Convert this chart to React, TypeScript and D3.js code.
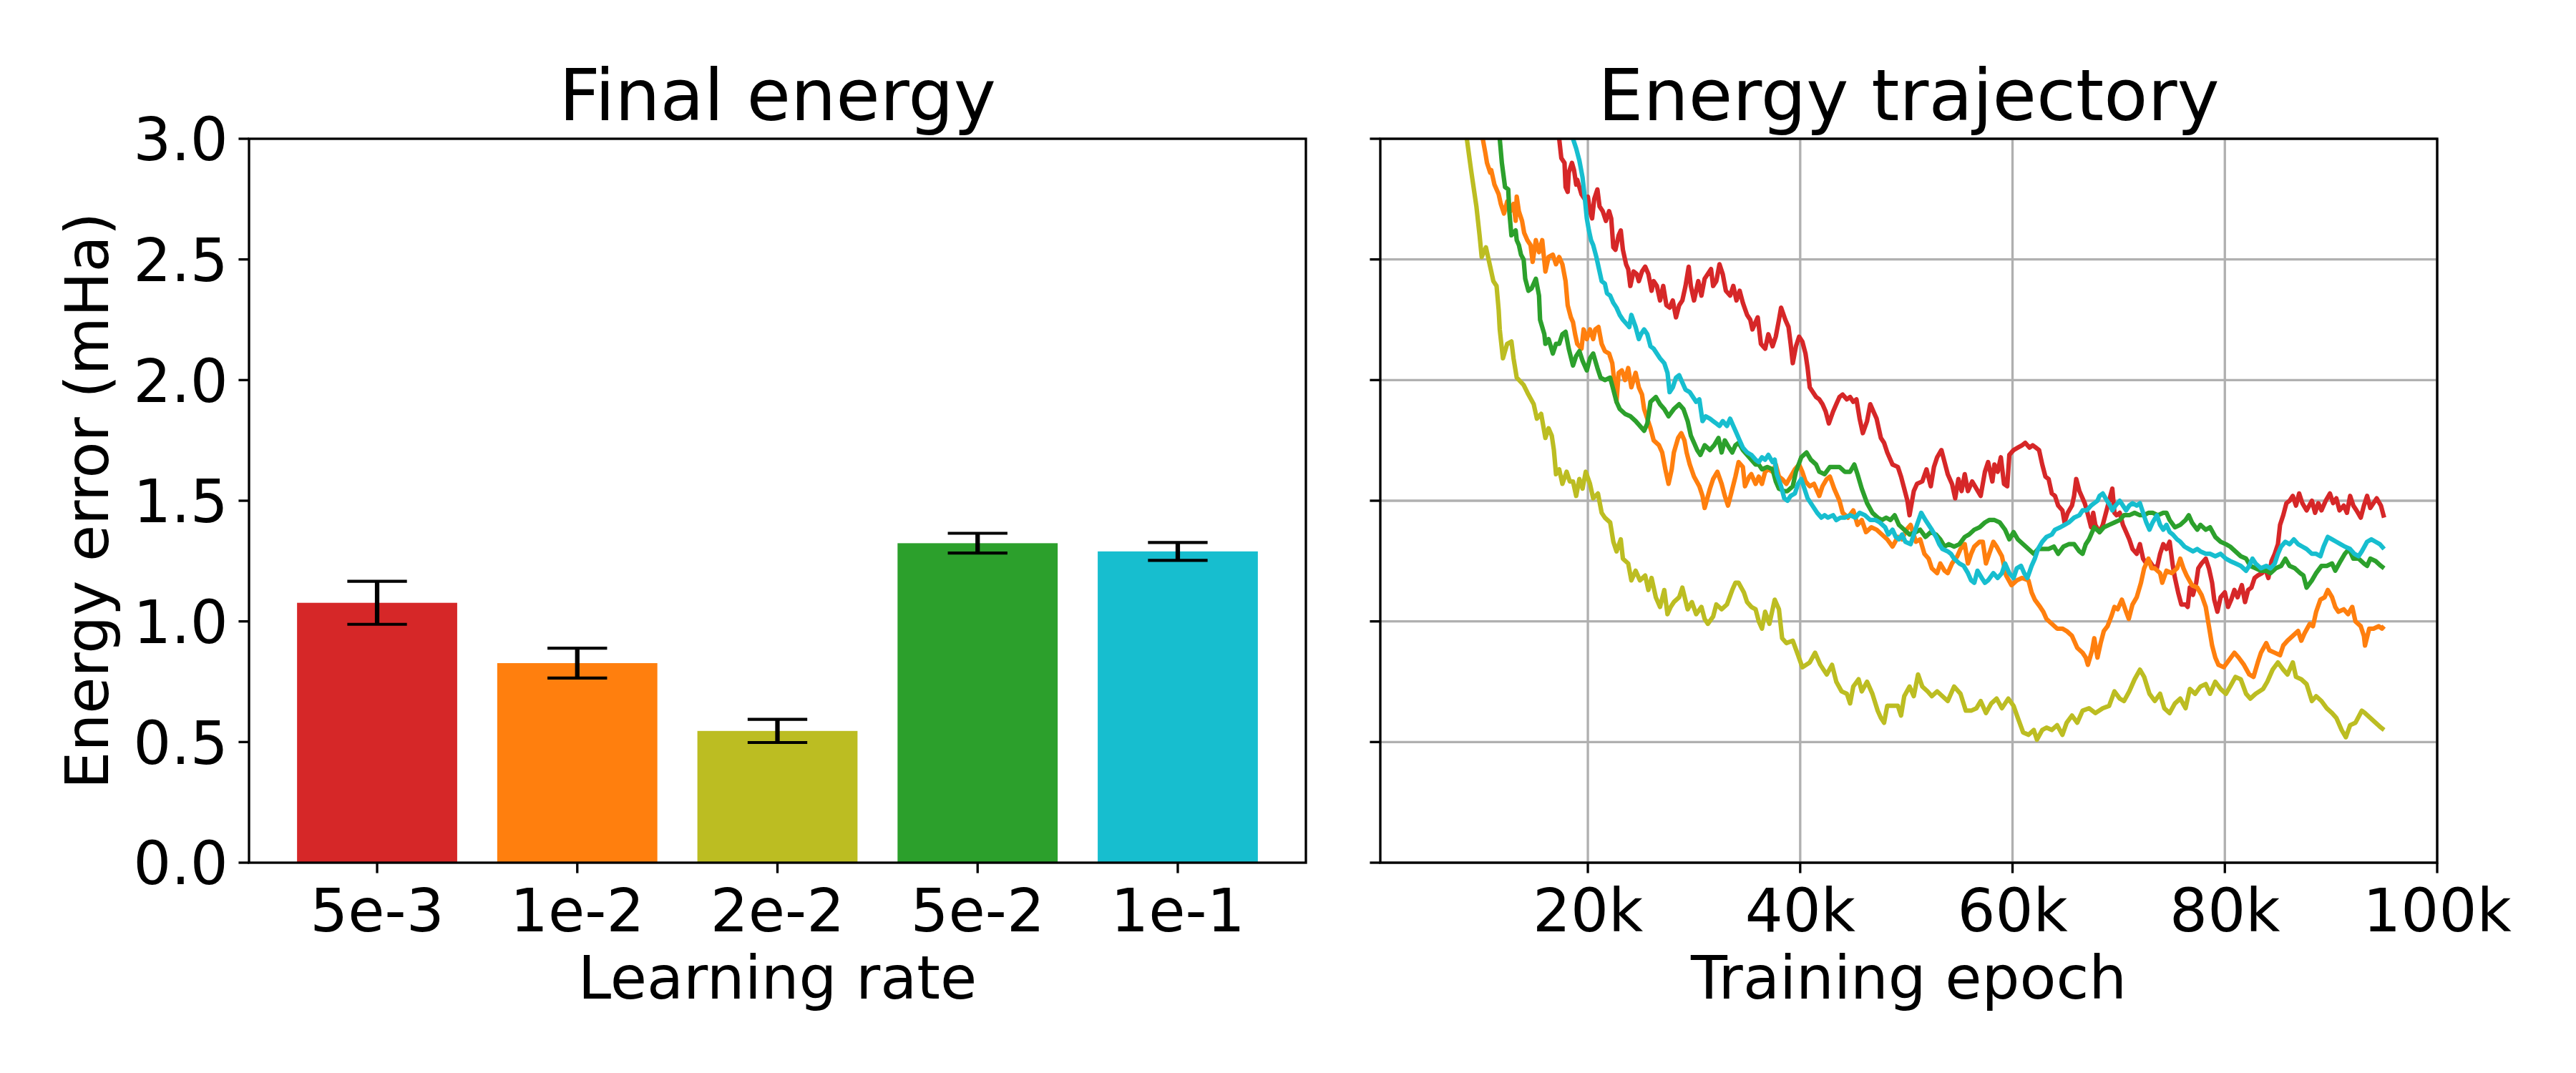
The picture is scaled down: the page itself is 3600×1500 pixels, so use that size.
import React from 'react';
import * as d3 from 'd3';

// ---------- data ----------
const learningRates = ['5e-3', '1e-2', '2e-2', '5e-2', '1e-1'];
const finalEnergy = [1.077, 0.827, 0.546, 1.324, 1.29];
const finalEnergyErr = [0.089, 0.062, 0.048, 0.041, 0.037];
const seriesColors = ['#d62728', '#ff7f0e', '#bcbd22', '#2ca02c', '#17becf'];

const yTicks = [0, 0.5, 1, 1.5, 2, 2.5, 3];
const yTickLabels = ['0.0', '0.5', '1.0', '1.5', '2.0', '2.5', '3.0'];
const epochTicks = [20000, 40000, 60000, 80000, 100000];
const epochTickLabels = ['20k', '40k', '60k', '80k', '100k'];

// trajectories: [epoch in thousands, energy error mHa]
const traj5e3: [number, number][] = [
  [5, 7.0], [12, 4.3], [15.5, 3.4], [17.3, 3.0], [17.5, 2.92], [17.8, 2.9], [17.9, 2.8], [18.1, 2.78], [18.2, 2.86], [18.5, 2.9], [18.7, 2.87], [18.9, 2.81], [19.0, 2.83], [19.4, 2.77], [19.7, 2.75], [20.0, 2.76], [20.2, 2.7], [20.4, 2.67], [20.6, 2.75], [20.9, 2.79], [21.1, 2.72], [21.4, 2.7], [21.7, 2.66], [22.0, 2.7], [22.2, 2.67], [22.4, 2.55], [22.6, 2.54], [22.9, 2.6], [23.1, 2.62], [23.3, 2.54], [23.6, 2.48], [23.8, 2.46], [24.0, 2.39], [24.3, 2.45], [24.6, 2.44], [24.8, 2.41], [25.1, 2.45], [25.4, 2.47], [25.7, 2.44], [26.0, 2.37], [26.2, 2.41], [26.5, 2.39], [26.8, 2.33], [27.1, 2.39], [27.4, 2.31], [27.7, 2.3], [28.0, 2.33], [28.3, 2.26], [28.6, 2.31], [28.9, 2.33], [29.2, 2.39], [29.5, 2.47], [29.7, 2.39], [30.0, 2.33], [30.4, 2.41], [30.7, 2.35], [31.0, 2.42], [31.3, 2.44], [31.6, 2.46], [31.8, 2.39], [32.1, 2.41], [32.4, 2.48], [32.7, 2.44], [33.0, 2.37], [33.4, 2.35], [33.7, 2.39], [34.0, 2.33], [34.3, 2.37], [34.6, 2.32], [35.0, 2.27], [35.3, 2.25], [35.5, 2.21], [35.8, 2.24], [36.0, 2.26], [36.3, 2.15], [36.7, 2.13], [37.0, 2.19], [37.4, 2.14], [37.7, 2.18], [38.0, 2.25], [38.2, 2.3], [38.6, 2.25], [38.9, 2.22], [39.1, 2.15], [39.3, 2.07], [39.6, 2.14], [39.9, 2.18], [40.2, 2.16], [40.5, 2.11], [40.7, 2.05], [40.9, 1.97], [41.2, 1.95], [41.5, 1.93], [41.8, 1.92], [42.1, 1.9], [42.4, 1.87], [42.7, 1.82], [43.1, 1.87], [43.4, 1.9], [43.7, 1.93], [44.0, 1.94], [44.4, 1.92], [44.7, 1.93], [45.0, 1.91], [45.3, 1.92], [45.6, 1.84], [45.9, 1.78], [46.3, 1.83], [46.6, 1.9], [46.9, 1.87], [47.2, 1.84], [47.6, 1.76], [47.9, 1.74], [48.2, 1.7], [48.7, 1.65], [49.2, 1.64], [49.5, 1.6], [49.8, 1.55], [50.1, 1.5], [50.3, 1.44], [50.7, 1.54], [51.0, 1.57], [51.5, 1.58], [51.9, 1.63], [52.3, 1.56], [52.6, 1.64], [52.9, 1.68], [53.3, 1.71], [53.6, 1.66], [53.9, 1.61], [54.3, 1.57], [54.6, 1.51], [54.9, 1.59], [55.2, 1.54], [55.5, 1.61], [55.8, 1.54], [56.2, 1.58], [56.6, 1.55], [57.0, 1.52], [57.4, 1.62], [57.7, 1.66], [58.1, 1.58], [58.3, 1.65], [58.6, 1.62], [58.9, 1.68], [59.2, 1.57], [59.5, 1.56], [59.7, 1.69], [60.1, 1.71], [60.5, 1.72], [60.9, 1.73], [61.2, 1.74], [61.6, 1.72], [61.9, 1.73], [62.2, 1.72], [62.5, 1.71], [62.8, 1.65], [63.1, 1.6], [63.4, 1.59], [63.7, 1.53], [64.0, 1.52], [64.3, 1.48], [64.7, 1.46], [64.9, 1.41], [65.2, 1.45], [65.6, 1.48], [65.8, 1.52], [66.0, 1.59], [66.3, 1.54], [66.5, 1.52], [66.8, 1.49], [67.0, 1.46], [67.4, 1.39], [67.6, 1.45], [67.8, 1.4], [68.2, 1.37], [68.5, 1.4], [68.8, 1.45], [69.1, 1.5], [69.4, 1.55], [69.6, 1.45], [69.8, 1.44], [70.1, 1.45], [70.4, 1.4], [70.7, 1.37], [71.0, 1.34], [71.3, 1.3], [71.7, 1.28], [72.0, 1.32], [72.3, 1.26], [72.6, 1.24], [72.9, 1.25], [73.2, 1.23], [73.6, 1.22], [73.9, 1.28], [74.2, 1.32], [74.5, 1.3], [74.8, 1.33], [75.1, 1.23], [75.3, 1.18], [75.6, 1.12], [75.9, 1.07], [76.3, 1.07], [76.5, 1.06], [76.7, 1.14], [77.0, 1.11], [77.3, 1.16], [77.5, 1.22], [77.8, 1.24], [78.2, 1.26], [78.5, 1.22], [78.8, 1.16], [79.0, 1.09], [79.3, 1.04], [79.6, 1.1], [80.0, 1.12], [80.3, 1.06], [80.6, 1.09], [80.9, 1.13], [81.2, 1.1], [81.6, 1.15], [81.9, 1.08], [82.2, 1.13], [82.5, 1.14], [82.8, 1.18], [83.1, 1.19], [83.5, 1.2], [83.8, 1.22], [84.1, 1.18], [84.4, 1.25], [84.7, 1.28], [85.0, 1.32], [85.2, 1.4], [85.5, 1.44], [85.8, 1.49], [86.1, 1.5], [86.4, 1.52], [86.7, 1.48], [87.0, 1.53], [87.3, 1.49], [87.7, 1.46], [88.2, 1.5], [88.5, 1.45], [88.8, 1.49], [89.1, 1.46], [89.5, 1.5], [89.9, 1.53], [90.2, 1.49], [90.5, 1.51], [90.8, 1.46], [91.2, 1.48], [91.5, 1.45], [91.8, 1.52], [92.1, 1.48], [92.4, 1.46], [92.8, 1.43], [93.1, 1.48], [93.4, 1.52], [93.7, 1.47], [94.0, 1.49], [94.3, 1.51], [94.7, 1.48], [95.0, 1.43],
];

const traj1e2: [number, number][] = [
  [5, 4.6], [8, 3.5], [10.1, 3.0], [10.35, 2.94], [10.5, 2.9], [10.8, 2.86], [10.9, 2.87], [11.2, 2.81], [11.6, 2.77], [11.8, 2.73], [12.1, 2.69], [12.4, 2.74], [12.7, 2.7], [13.0, 2.73], [13.2, 2.66], [13.3, 2.76], [13.5, 2.7], [13.8, 2.66], [14.0, 2.61], [14.3, 2.58], [14.6, 2.56], [14.8, 2.49], [15.1, 2.58], [15.4, 2.53], [15.7, 2.58], [16.0, 2.45], [16.3, 2.51], [16.7, 2.52], [17.0, 2.48], [17.3, 2.51], [17.6, 2.48], [17.9, 2.41], [18.1, 2.31], [18.4, 2.26], [18.6, 2.24], [18.8, 2.19], [19.0, 2.15], [19.4, 2.13], [19.6, 2.21], [19.9, 2.17], [20.2, 2.21], [20.5, 2.17], [20.7, 2.21], [21.0, 2.22], [21.3, 2.15], [21.6, 2.12], [22.0, 2.11], [22.3, 2.07], [22.5, 1.99], [22.7, 1.91], [22.9, 2.03], [23.2, 2.04], [23.5, 2.0], [23.8, 2.05], [24.1, 1.97], [24.5, 2.03], [24.8, 1.97], [25.1, 1.94], [25.3, 1.88], [25.6, 1.84], [25.9, 1.8], [26.2, 1.75], [26.7, 1.73], [27.0, 1.7], [27.3, 1.63], [27.6, 1.57], [27.9, 1.63], [28.1, 1.7], [28.5, 1.76], [28.8, 1.78], [29.1, 1.75], [29.3, 1.7], [29.6, 1.65], [30.0, 1.6], [30.5, 1.56], [30.8, 1.52], [31.0, 1.47], [31.5, 1.55], [31.8, 1.59], [32.2, 1.62], [32.6, 1.57], [32.9, 1.52], [33.2, 1.48], [33.5, 1.53], [33.9, 1.6], [34.2, 1.66], [34.6, 1.64], [34.8, 1.56], [35.2, 1.6], [35.4, 1.61], [35.8, 1.57], [36.1, 1.6], [36.4, 1.57], [36.7, 1.62], [37.0, 1.63], [37.4, 1.62], [37.7, 1.65], [38.0, 1.6], [38.3, 1.59], [38.7, 1.57], [39.1, 1.6], [39.5, 1.63], [39.9, 1.65], [40.2, 1.62], [40.5, 1.58], [40.9, 1.56], [41.3, 1.57], [41.8, 1.52], [42.1, 1.56], [42.5, 1.59], [42.8, 1.6], [43.2, 1.55], [43.7, 1.5], [44.0, 1.45], [44.5, 1.43], [45.0, 1.46], [45.4, 1.4], [45.8, 1.42], [46.2, 1.37], [46.7, 1.39], [47.2, 1.38], [47.7, 1.36], [48.2, 1.34], [48.7, 1.31], [49.2, 1.35], [49.6, 1.34], [50.0, 1.38], [50.4, 1.4], [50.9, 1.33], [51.3, 1.34], [51.7, 1.28], [52.1, 1.26], [52.4, 1.22], [52.9, 1.2], [53.2, 1.24], [53.6, 1.21], [53.9, 1.2], [54.3, 1.24], [54.8, 1.27], [55.1, 1.3], [55.5, 1.32], [55.8, 1.24], [56.1, 1.28], [56.4, 1.31], [56.9, 1.33], [57.2, 1.33], [57.5, 1.24], [57.8, 1.28], [58.2, 1.33], [58.5, 1.31], [59.0, 1.27], [59.4, 1.19], [59.9, 1.15], [60.4, 1.17], [60.9, 1.18], [61.5, 1.17], [61.8, 1.12], [62.1, 1.09], [62.6, 1.06], [62.9, 1.04], [63.2, 1.01], [63.7, 0.99], [64.2, 0.97], [64.7, 0.97], [65.1, 0.96], [65.6, 0.94], [66.1, 0.89], [66.6, 0.87], [66.9, 0.85], [67.1, 0.82], [67.5, 0.88], [67.7, 0.93], [68.0, 0.85], [68.3, 0.91], [68.6, 0.96], [68.95, 0.98], [69.3, 1.02], [69.6, 1.06], [69.9, 1.05], [70.3, 1.09], [70.7, 1.04], [70.95, 1.01], [71.3, 1.07], [71.7, 1.1], [72.1, 1.16], [72.4, 1.22], [72.8, 1.26], [73.1, 1.22], [73.4, 1.22], [73.9, 1.2], [74.1, 1.16], [74.5, 1.21], [75.0, 1.2], [75.5, 1.22], [75.8, 1.26], [76.1, 1.22], [76.4, 1.19], [76.9, 1.15], [77.4, 1.14], [77.8, 1.11], [78.2, 1.06], [78.5, 0.98], [78.8, 0.9], [79.1, 0.85], [79.4, 0.82], [79.9, 0.81], [80.4, 0.84], [80.9, 0.87], [81.3, 0.85], [81.8, 0.82], [82.3, 0.78], [82.7, 0.77], [83.1, 0.83], [83.4, 0.87], [83.9, 0.91], [84.2, 0.88], [84.7, 0.87], [85.2, 0.86], [85.5, 0.9], [85.9, 0.92], [86.4, 0.94], [86.9, 0.96], [87.2, 0.92], [87.5, 0.95], [88.0, 0.99], [88.3, 0.98], [88.6, 1.04], [89.0, 1.09], [89.4, 1.1], [89.7, 1.13], [90.1, 1.1], [90.4, 1.06], [90.7, 1.04], [91.2, 1.05], [91.6, 1.03], [92.0, 1.06], [92.3, 1.0], [92.8, 0.98], [93.1, 0.94], [93.2, 0.9], [93.6, 0.97], [94.0, 0.97], [94.5, 0.98], [94.8, 0.97], [95.0, 0.98],
];

const traj2e2: [number, number][] = [
  [5, 4.3], [7, 3.45], [8.6, 3.0], [9.0, 2.87], [9.5, 2.72], [9.8, 2.6], [10.0, 2.51], [10.4, 2.55], [10.7, 2.49], [11.1, 2.41], [11.4, 2.39], [11.6, 2.29], [11.7, 2.21], [12.0, 2.09], [12.4, 2.15], [12.8, 2.16], [13.0, 2.09], [13.3, 2.01], [13.95, 1.98], [14.4, 1.94], [14.9, 1.9], [15.2, 1.84], [15.6, 1.86], [16.0, 1.76], [16.3, 1.8], [16.6, 1.77], [16.8, 1.71], [17.0, 1.61], [17.3, 1.63], [17.6, 1.57], [18.0, 1.62], [18.3, 1.58], [18.6, 1.58], [18.9, 1.52], [19.2, 1.59], [19.5, 1.55], [19.8, 1.62], [20.2, 1.57], [20.5, 1.51], [20.95, 1.53], [21.3, 1.45], [21.6, 1.43], [22.1, 1.41], [22.4, 1.33], [22.7, 1.29], [23.1, 1.34], [23.3, 1.26], [23.8, 1.24], [24.1, 1.17], [24.5, 1.21], [24.9, 1.17], [25.4, 1.19], [25.7, 1.13], [26.0, 1.18], [26.4, 1.1], [26.8, 1.06], [27.2, 1.13], [27.5, 1.03], [27.8, 1.06], [28.1, 1.08], [28.6, 1.1], [28.9, 1.14], [29.4, 1.05], [29.8, 1.08], [30.2, 1.03], [30.7, 1.06], [31.0, 1.01], [31.3, 0.99], [31.8, 1.02], [32.1, 1.07], [32.6, 1.05], [33.1, 1.07], [33.6, 1.13], [33.9, 1.16], [34.2, 1.16], [34.7, 1.12], [35.0, 1.08], [35.4, 1.06], [35.8, 1.05], [36.1, 1.0], [36.4, 0.97], [36.7, 1.04], [37.1, 0.99], [37.6, 1.09], [38.0, 1.05], [38.3, 0.93], [38.7, 0.91], [39.3, 0.92], [39.8, 0.86], [40.2, 0.81], [40.9, 0.83], [41.4, 0.87], [41.9, 0.82], [42.5, 0.78], [43.0, 0.82], [43.4, 0.75], [43.9, 0.71], [44.4, 0.7], [44.7, 0.66], [45.0, 0.73], [45.5, 0.76], [45.8, 0.71], [46.3, 0.75], [46.8, 0.7], [47.3, 0.63], [47.6, 0.6], [47.9, 0.58], [48.2, 0.65], [48.7, 0.65], [49.2, 0.65], [49.5, 0.61], [49.8, 0.69], [50.3, 0.73], [50.7, 0.69], [51.1, 0.78], [51.5, 0.73], [52.0, 0.71], [52.4, 0.69], [52.9, 0.71], [53.4, 0.69], [53.9, 0.67], [54.5, 0.73], [55.1, 0.7], [55.6, 0.63], [56.1, 0.63], [56.6, 0.64], [57.0, 0.67], [57.5, 0.62], [58.0, 0.66], [58.5, 0.68], [59.0, 0.64], [59.6, 0.68], [60.1, 0.65], [60.5, 0.6], [61.0, 0.54], [61.5, 0.53], [62.0, 0.55], [62.3, 0.51], [62.8, 0.55], [63.2, 0.56], [63.7, 0.55], [64.2, 0.57], [64.7, 0.53], [65.1, 0.58], [65.6, 0.61], [66.1, 0.58], [66.6, 0.63], [67.2, 0.64], [67.8, 0.62], [68.5, 0.64], [69.1, 0.65], [69.6, 0.71], [70.1, 0.68], [70.5, 0.67], [71.0, 0.71], [71.5, 0.76], [72.0, 0.8], [72.4, 0.77], [72.9, 0.7], [73.4, 0.67], [73.9, 0.7], [74.3, 0.64], [74.8, 0.62], [75.3, 0.66], [75.8, 0.68], [76.3, 0.64], [76.7, 0.72], [77.2, 0.7], [77.7, 0.73], [78.2, 0.74], [78.6, 0.7], [79.1, 0.75], [79.6, 0.72], [80.1, 0.7], [80.5, 0.73], [81.0, 0.77], [81.5, 0.76], [82.0, 0.7], [82.4, 0.68], [82.9, 0.7], [83.6, 0.72], [84.0, 0.75], [84.5, 0.8], [85.0, 0.83], [85.5, 0.8], [85.9, 0.78], [86.4, 0.83], [86.7, 0.77], [87.2, 0.76], [87.7, 0.74], [88.2, 0.67], [88.6, 0.69], [89.1, 0.67], [89.6, 0.64], [90.1, 0.62], [90.5, 0.6], [91.0, 0.55], [91.4, 0.52], [91.8, 0.57], [92.3, 0.58], [92.9, 0.63], [93.2, 0.62], [93.7, 0.6], [94.2, 0.58], [94.7, 0.56], [95.0, 0.55],
];

const traj5e2: [number, number][] = [
  [5, 5.2], [9, 3.7], [11.7, 3.0], [11.9, 2.9], [12.2, 2.8], [12.5, 2.79], [12.6, 2.7], [12.8, 2.6], [13.2, 2.62], [13.3, 2.58], [13.5, 2.56], [13.7, 2.52], [13.95, 2.5], [14.1, 2.42], [14.4, 2.37], [14.7, 2.38], [15.1, 2.42], [15.4, 2.35], [15.5, 2.25], [15.9, 2.19], [16.0, 2.15], [16.3, 2.17], [16.7, 2.11], [17.0, 2.15], [17.3, 2.15], [17.6, 2.19], [17.9, 2.2], [18.2, 2.13], [18.6, 2.06], [18.9, 2.1], [19.2, 2.12], [19.5, 2.08], [19.9, 2.04], [20.2, 2.09], [20.5, 2.11], [20.9, 2.05], [21.2, 2.01], [21.6, 2.0], [22.1, 2.01], [22.4, 1.96], [22.7, 1.91], [23.0, 1.88], [23.5, 1.86], [24.0, 1.85], [24.5, 1.83], [24.9, 1.81], [25.3, 1.79], [25.6, 1.82], [25.9, 1.91], [26.4, 1.93], [26.8, 1.9], [27.2, 1.88], [27.6, 1.85], [28.1, 1.88], [28.6, 1.9], [29.0, 1.88], [29.4, 1.83], [29.7, 1.77], [30.0, 1.74], [30.3, 1.71], [30.6, 1.69], [31.0, 1.73], [31.5, 1.71], [31.9, 1.73], [32.3, 1.76], [32.6, 1.7], [32.9, 1.75], [33.3, 1.72], [33.6, 1.7], [33.9, 1.73], [34.2, 1.74], [34.6, 1.71], [35.0, 1.69], [35.4, 1.67], [35.8, 1.65], [36.1, 1.65], [36.4, 1.63], [36.9, 1.64], [37.4, 1.63], [37.7, 1.58], [38.0, 1.55], [38.5, 1.54], [38.8, 1.54], [39.3, 1.56], [39.6, 1.62], [40.1, 1.68], [40.6, 1.7], [41.0, 1.67], [41.5, 1.65], [41.8, 1.62], [42.3, 1.61], [42.8, 1.64], [43.2, 1.64], [43.7, 1.64], [44.2, 1.62], [44.7, 1.62], [45.1, 1.65], [45.4, 1.61], [45.8, 1.55], [46.3, 1.49], [46.8, 1.45], [47.3, 1.43], [47.7, 1.42], [48.1, 1.43], [48.5, 1.42], [48.9, 1.44], [49.3, 1.4], [49.8, 1.38], [50.3, 1.36], [50.9, 1.37], [51.3, 1.38], [51.8, 1.35], [52.3, 1.37], [52.8, 1.36], [53.2, 1.34], [53.6, 1.31], [54.0, 1.32], [54.5, 1.31], [55.0, 1.32], [55.5, 1.35], [55.9, 1.36], [56.4, 1.38], [56.9, 1.39], [57.4, 1.41], [57.8, 1.42], [58.3, 1.42], [58.8, 1.41], [59.3, 1.38], [59.7, 1.34], [60.1, 1.37], [60.5, 1.34], [61.0, 1.32], [61.5, 1.3], [62.0, 1.28], [62.4, 1.3], [62.9, 1.3], [63.4, 1.3], [63.9, 1.31], [64.3, 1.28], [64.8, 1.31], [65.3, 1.32], [65.8, 1.32], [66.3, 1.29], [66.6, 1.28], [66.9, 1.32], [67.2, 1.34], [67.7, 1.39], [68.2, 1.37], [68.6, 1.39], [69.1, 1.4], [69.6, 1.41], [70.1, 1.42], [70.5, 1.44], [71.0, 1.44], [71.5, 1.45], [72.0, 1.44], [72.4, 1.44], [72.8, 1.45], [73.2, 1.45], [73.7, 1.44], [74.2, 1.45], [74.5, 1.45], [74.8, 1.42], [75.3, 1.39], [75.8, 1.4], [76.3, 1.42], [76.6, 1.44], [76.9, 1.41], [77.4, 1.38], [77.7, 1.4], [78.2, 1.38], [78.6, 1.39], [79.1, 1.35], [79.6, 1.33], [80.1, 1.32], [80.5, 1.31], [81.0, 1.29], [81.5, 1.27], [82.0, 1.26], [82.4, 1.23], [82.9, 1.22], [83.4, 1.21], [83.9, 1.21], [84.3, 1.2], [84.8, 1.22], [85.3, 1.23], [85.7, 1.26], [86.1, 1.23], [86.6, 1.22], [87.1, 1.2], [87.4, 1.19], [87.7, 1.14], [88.2, 1.17], [88.6, 1.2], [89.1, 1.23], [89.6, 1.23], [90.1, 1.24], [90.4, 1.21], [90.9, 1.25], [91.3, 1.28], [91.7, 1.3], [92.1, 1.26], [92.6, 1.26], [93.1, 1.24], [93.4, 1.23], [93.7, 1.26], [94.2, 1.25], [94.7, 1.23], [95.0, 1.22],
];

const traj1e1: [number, number][] = [
  [5, 8.0], [13, 4.6], [17, 3.4], [18.6, 3.0], [18.9, 2.96], [19.2, 2.91], [19.5, 2.84], [19.7, 2.76], [19.9, 2.67], [20.1, 2.62], [20.3, 2.58], [20.5, 2.56], [20.8, 2.51], [21.1, 2.45], [21.3, 2.41], [21.6, 2.4], [21.8, 2.36], [22.1, 2.35], [22.4, 2.32], [22.7, 2.3], [23.0, 2.27], [23.3, 2.25], [23.7, 2.23], [23.9, 2.22], [24.1, 2.27], [24.5, 2.22], [24.8, 2.17], [25.0, 2.19], [25.3, 2.21], [25.6, 2.19], [25.9, 2.14], [26.2, 2.13], [26.5, 2.11], [26.8, 2.09], [27.2, 2.07], [27.5, 2.03], [27.7, 1.95], [28.0, 1.97], [28.3, 2.01], [28.6, 2.02], [28.9, 1.99], [29.2, 1.96], [29.6, 1.95], [29.9, 1.93], [30.2, 1.91], [30.5, 1.92], [30.8, 1.83], [31.1, 1.85], [31.5, 1.84], [31.8, 1.83], [32.1, 1.82], [32.4, 1.81], [32.7, 1.83], [33.1, 1.81], [33.4, 1.84], [33.7, 1.81], [34.0, 1.78], [34.3, 1.75], [34.6, 1.72], [35.0, 1.7], [35.4, 1.69], [35.8, 1.67], [36.1, 1.66], [36.4, 1.68], [36.7, 1.67], [37.0, 1.69], [37.4, 1.66], [37.6, 1.67], [37.8, 1.61], [38.2, 1.56], [38.5, 1.51], [38.8, 1.5], [39.1, 1.52], [39.5, 1.53], [39.8, 1.57], [40.1, 1.59], [40.4, 1.55], [40.7, 1.51], [41.0, 1.49], [41.3, 1.47], [41.6, 1.45], [42.0, 1.43], [42.3, 1.44], [42.6, 1.43], [43.1, 1.44], [43.4, 1.42], [43.8, 1.43], [44.2, 1.43], [44.7, 1.44], [45.2, 1.43], [45.6, 1.45], [46.1, 1.44], [46.6, 1.42], [47.1, 1.42], [47.5, 1.41], [48.0, 1.39], [48.3, 1.36], [48.7, 1.38], [49.0, 1.35], [49.3, 1.34], [49.6, 1.36], [49.9, 1.33], [50.4, 1.32], [50.7, 1.36], [51.0, 1.4], [51.4, 1.45], [51.8, 1.42], [52.1, 1.4], [52.4, 1.38], [52.8, 1.35], [53.1, 1.32], [53.4, 1.3], [53.9, 1.29], [54.2, 1.28], [54.5, 1.26], [55.0, 1.24], [55.4, 1.23], [55.8, 1.2], [56.1, 1.17], [56.4, 1.16], [56.7, 1.21], [57.1, 1.18], [57.4, 1.16], [57.7, 1.17], [58.2, 1.2], [58.6, 1.18], [59.0, 1.2], [59.3, 1.24], [59.7, 1.2], [60.1, 1.18], [60.4, 1.22], [60.8, 1.23], [61.1, 1.2], [61.4, 1.18], [61.8, 1.23], [62.1, 1.26], [62.4, 1.3], [62.8, 1.33], [63.2, 1.35], [63.7, 1.36], [64.0, 1.38], [64.5, 1.39], [64.9, 1.4], [65.3, 1.41], [65.8, 1.43], [66.3, 1.44], [66.6, 1.46], [67.0, 1.46], [67.4, 1.48], [67.7, 1.49], [68.0, 1.5], [68.2, 1.52], [68.5, 1.53], [68.9, 1.5], [69.2, 1.48], [69.4, 1.46], [69.7, 1.48], [70.1, 1.5], [70.4, 1.48], [70.7, 1.46], [71.0, 1.48], [71.3, 1.49], [71.7, 1.48], [72.0, 1.49], [72.3, 1.45], [72.6, 1.41], [72.9, 1.38], [73.2, 1.41], [73.6, 1.44], [73.9, 1.4], [74.2, 1.38], [74.5, 1.4], [74.8, 1.37], [75.1, 1.36], [75.5, 1.34], [75.8, 1.33], [76.2, 1.31], [76.6, 1.3], [77.0, 1.29], [77.4, 1.3], [77.7, 1.29], [78.2, 1.28], [78.6, 1.28], [79.1, 1.27], [79.6, 1.28], [80.1, 1.26], [80.5, 1.25], [81.0, 1.24], [81.5, 1.23], [82.0, 1.21], [82.3, 1.23], [82.6, 1.26], [82.9, 1.24], [83.4, 1.22], [83.9, 1.23], [84.3, 1.22], [84.7, 1.24], [85.0, 1.28], [85.3, 1.31], [85.7, 1.33], [86.1, 1.32], [86.5, 1.34], [86.9, 1.32], [87.3, 1.31], [87.7, 1.3], [88.2, 1.28], [88.6, 1.28], [89.0, 1.27], [89.3, 1.31], [89.7, 1.35], [90.1, 1.34], [90.5, 1.33], [90.9, 1.32], [91.3, 1.31], [91.8, 1.3], [92.2, 1.28], [92.6, 1.27], [92.9, 1.29], [93.4, 1.33], [93.8, 1.34], [94.2, 1.33], [94.6, 1.32], [95.0, 1.3],
];

const trajectories = [traj5e3, traj1e2, traj2e2, traj5e2, traj1e1];

// ---------- layout ----------
const W = 3600;
const H = 1500;
const PT = 300 / 72;
const FONT = "'DejaVu Sans', sans-serif";
const TICK_FS = 20 * PT;
const TITLE_FS = 24 * PT;
const TICK_LEN = 3.5 * PT;
const SPINE_W = 0.8 * PT;

const axTop = 194;
const axBottom = 1206;
const leftAx = { x0: 348, x1: 1825 };
const rightAx = { x0: 1929, x1: 3406 };

export default function App() {
  const y = d3.scaleLinear().domain([0, 3]).range([axBottom, axTop]);
  const xBar = d3.scaleLinear().domain([-0.64, 4.64]).range([leftAx.x0, leftAx.x1]);
  const xEp = d3.scaleLinear().domain([450, 100000]).range([rightAx.x0, rightAx.x1]);
  const line = d3
    .line<[number, number]>()
    .x((d) => xEp(d[0] * 1000))
    .y((d) => y(d[1]));

  const barW = xBar(0.8) - xBar(0);
  const capHalf = 10 * PT;
  const xLabelBaseline = 1396;
  const xTickBaseline = 1302;

  const leftCx = (leftAx.x0 + leftAx.x1) / 2;
  const rightCx = (rightAx.x0 + rightAx.x1) / 2;
  const midY = (axTop + axBottom) / 2;

  return (
    <svg
      width={W}
      height={H}
      viewBox={`0 0 ${W} ${H}`}
      style={{ position: 'absolute', left: 0, top: 0, display: 'block', background: '#fff' }}
      fontFamily={FONT}
    >
      <defs>
        <clipPath id="rightClip">
          <rect x={rightAx.x0} y={axTop} width={rightAx.x1 - rightAx.x0} height={axBottom - axTop} />
        </clipPath>
      </defs>
      <rect x={0} y={0} width={W} height={H} fill="#ffffff" />

      {/* ---------- left panel: bars ---------- */}
      {finalEnergy.map((v, i) => (
        <rect
          key={'bar' + i}
          x={xBar(i - 0.4)}
          y={y(v)}
          width={barW}
          height={y(0) - y(v)}
          fill={seriesColors[i]}
        />
      ))}
      {finalEnergy.map((v, i) => {
        const cx = xBar(i);
        const yt = y(v + finalEnergyErr[i]);
        const yb = y(v - finalEnergyErr[i]);
        return (
          <g key={'err' + i} stroke="#000">
            <line x1={cx} x2={cx} y1={yt} y2={yb} strokeWidth={1.5 * PT} />
            <line x1={cx - capHalf} x2={cx + capHalf} y1={yt} y2={yt} strokeWidth={1 * PT} />
            <line x1={cx - capHalf} x2={cx + capHalf} y1={yb} y2={yb} strokeWidth={1 * PT} />
          </g>
        );
      })}
      <rect
        x={leftAx.x0}
        y={axTop}
        width={leftAx.x1 - leftAx.x0}
        height={axBottom - axTop}
        fill="none"
        stroke="#000"
        strokeWidth={SPINE_W}
      />
      {yTicks.map((t, i) => (
        <g key={'lyt' + i}>
          <line x1={leftAx.x0 - TICK_LEN} x2={leftAx.x0} y1={y(t)} y2={y(t)} stroke="#000" strokeWidth={SPINE_W} />
          <text
            x={leftAx.x0 - TICK_LEN - 3.5 * PT}
            y={y(t) + 0.365 * TICK_FS}
            fontSize={TICK_FS}
            textAnchor="end"
            fill="#000"
          >
            {yTickLabels[i]}
          </text>
        </g>
      ))}
      {learningRates.map((lab, i) => (
        <g key={'lxt' + i}>
          <line x1={xBar(i)} x2={xBar(i)} y1={axBottom} y2={axBottom + TICK_LEN} stroke="#000" strokeWidth={SPINE_W} />
          <text x={xBar(i)} y={xTickBaseline} fontSize={TICK_FS} textAnchor="middle" fill="#000">
            {lab}
          </text>
        </g>
      ))}
      <text x={leftCx} y={xLabelBaseline} fontSize={TICK_FS} textAnchor="middle" fill="#000">
        Learning rate
      </text>
      <text
        transform={`translate(151,${midY}) rotate(-90)`}
        fontSize={TICK_FS}
        textAnchor="middle"
        fill="#000"
      >
        Energy error (mHa)
      </text>
      <text x={leftCx} y={168} fontSize={TITLE_FS} textAnchor="middle" fill="#000">
        Final energy
      </text>

      {/* ---------- right panel: trajectories ---------- */}
      <g stroke="#b0b0b0" strokeWidth={SPINE_W}>
        {epochTicks.map((t, i) => (
          <line key={'gx' + i} x1={xEp(t)} x2={xEp(t)} y1={axTop} y2={axBottom} />
        ))}
        {yTicks.map((t, i) => (
          <line key={'gy' + i} x1={rightAx.x0} x2={rightAx.x1} y1={y(t)} y2={y(t)} />
        ))}
      </g>
      <g clipPath="url(#rightClip)">
        {trajectories.map((tr, i) => (
          <path
            key={'tr' + i}
            d={line(tr) || ''}
            fill="none"
            stroke={seriesColors[i]}
            strokeWidth={1.5 * PT}
            strokeLinejoin="round"
            strokeLinecap="butt"
          />
        ))}
      </g>
      <rect
        x={rightAx.x0}
        y={axTop}
        width={rightAx.x1 - rightAx.x0}
        height={axBottom - axTop}
        fill="none"
        stroke="#000"
        strokeWidth={SPINE_W}
      />
      {yTicks.map((t, i) => (
        <line
          key={'ryt' + i}
          x1={rightAx.x0 - TICK_LEN}
          x2={rightAx.x0}
          y1={y(t)}
          y2={y(t)}
          stroke="#000"
          strokeWidth={SPINE_W}
        />
      ))}
      {epochTicks.map((t, i) => (
        <g key={'rxt' + i}>
          <line x1={xEp(t)} x2={xEp(t)} y1={axBottom} y2={axBottom + TICK_LEN} stroke="#000" strokeWidth={SPINE_W} />
          <text x={xEp(t)} y={xTickBaseline} fontSize={TICK_FS} textAnchor="middle" fill="#000">
            {epochTickLabels[i]}
          </text>
        </g>
      ))}
      <text x={rightCx} y={xLabelBaseline} fontSize={TICK_FS} textAnchor="middle" fill="#000">
        Training epoch
      </text>
      <text x={rightCx} y={168} fontSize={TITLE_FS} textAnchor="middle" fill="#000">
        Energy trajectory
      </text>
    </svg>
  );
}
